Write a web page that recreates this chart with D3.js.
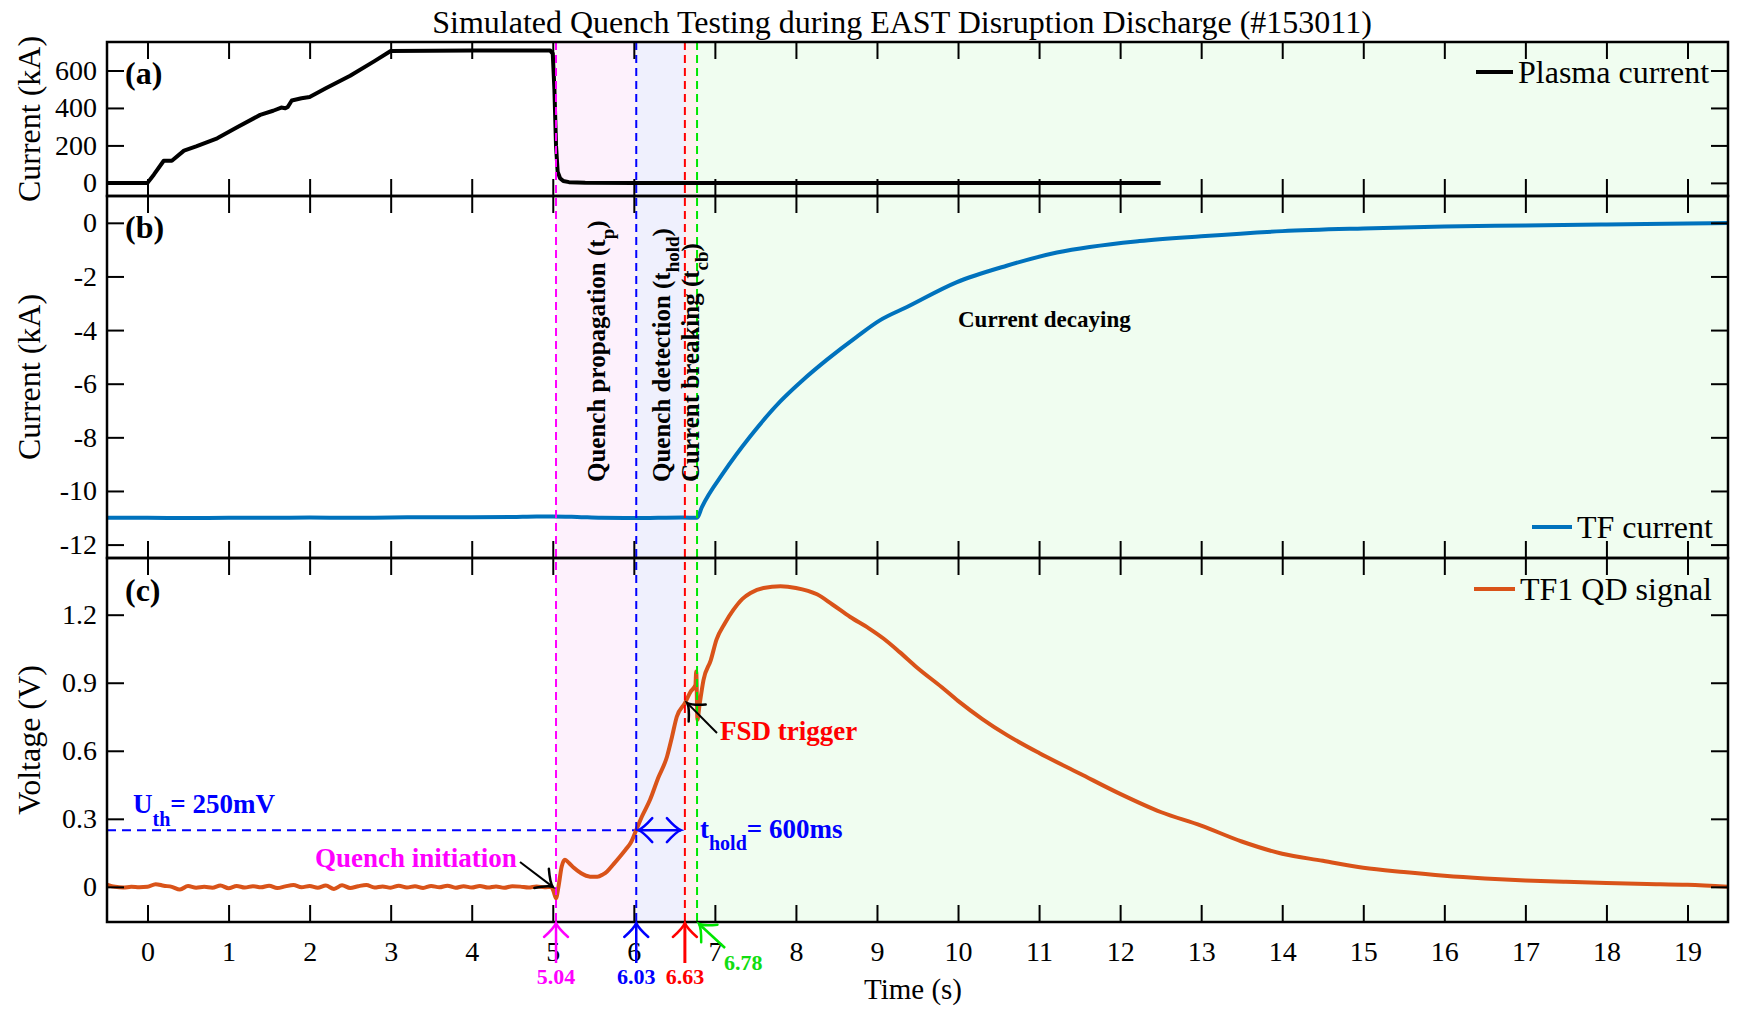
<!DOCTYPE html>
<html>
<head>
<meta charset="utf-8">
<script src="https://cdn.jsdelivr.net/npm/d3@7"></script>
<style>
body { margin: 0; background: #fff; }
svg text { font-family: "Liberation Serif", "Times New Roman", serif; fill: #000; }
.bold { font-weight: bold; }
</style>
</head>
<body>
<div id="chart"></div>
<script>
// Plasma current (kA)
const plasmaT = [-0.5, 0.0, 0.08, 0.2, 0.3, 0.45, 0.6, 0.86, 1.1, 1.39, 1.55, 1.65, 1.7, 1.73, 1.78, 1.9, 2.0, 2.2, 2.5, 2.8, 3.0, 3.5, 4.0, 4.5, 4.97, 5.0, 5.02, 5.04, 5.06, 5.09, 5.13, 5.2, 5.4, 6.0, 8.0, 10.0, 12.5];
const plasmaI = [0, 0, 45, 118, 118, 172, 195, 238, 295, 363, 385, 402, 398, 405, 440, 452, 458, 505, 572, 650, 704, 705, 706, 706, 706, 690, 500, 200, 60, 25, 10, 4, 1, 0, 0, 0, 0];

// TF current (kA)
const tfT = [-0.5, 0, 0.5, 1, 1.5, 2, 2.5, 3, 3.5, 4, 4.5, 4.8, 5.0, 5.3, 5.6, 6.0, 6.3, 6.6, 6.78, 6.84, 7.11, 7.44, 7.81, 8.09, 8.38, 8.75, 9.04, 9.37, 9.98, 10.6, 11.22, 12.24, 13, 14, 15, 16, 17, 18, 19, 19.5];
const tfI = [-11.0, -11.0, -11.01, -11.0, -11.0, -10.99, -11.0, -10.99, -10.98, -10.98, -10.97, -10.95, -10.95, -10.97, -11.0, -11.01, -11.0, -10.99, -11.0, -10.6, -9.3, -7.95, -6.65, -5.85, -5.11, -4.25, -3.63, -3.14, -2.22, -1.6, -1.11, -0.68, -0.5, -0.31, -0.21, -0.14, -0.1, -0.06, -0.03, -0.01];

// TF1 QD signal (V)
const qdT = [-0.5, -0.4, -0.3, -0.2, -0.1, 0.0, 0.1, 0.2, 0.3, 0.4, 0.5, 0.6, 0.7, 0.8, 0.9, 1.0, 1.1, 1.2, 1.3, 1.4, 1.5, 1.6, 1.7, 1.8, 1.9, 2.0, 2.1, 2.2, 2.3, 2.4, 2.5, 2.6, 2.7, 2.8, 2.9, 3.0, 3.1, 3.2, 3.3, 3.4, 3.5, 3.6, 3.7, 3.8, 3.9, 4.0, 4.1, 4.2, 4.3, 4.4, 4.5, 4.6, 4.7, 4.8, 4.9, 4.98,
  5.01, 5.04, 5.07, 5.11, 5.15, 5.2, 5.26, 5.35, 5.46, 5.55, 5.62, 5.67, 5.75, 5.83, 5.9, 5.96, 6.03, 6.1, 6.2, 6.3, 6.41, 6.47, 6.53, 6.63, 6.7, 6.76, 6.77, 6.785, 6.81, 6.86, 6.95, 7.02, 7.12, 7.23, 7.34, 7.44, 7.6, 7.81, 8.0, 8.26, 8.45, 8.67, 8.9, 9.08, 9.28, 9.5, 9.8, 10.0, 10.3, 10.6, 11.0, 11.5, 12.0, 12.5, 13.0, 13.5, 14.0, 14.5, 15.0, 15.5, 16.0, 16.5, 17.0, 17.5, 18.0, 18.5, 19.0, 19.5];
const qdV = [0.01, 0.0, -0.003, 0.0, -0.002, 0.0, 0.012, 0.005, 0.0, -0.012, 0.004, -0.004, 0.0, -0.004, 0.006, -0.006, 0.004, -0.003, 0.003, -0.002, 0.005, -0.005, 0.002, 0.008, -0.002, 0.004, -0.004, 0.006, -0.009, 0.007, -0.005, 0.003, 0.008, -0.003, 0.002, -0.004, 0.005, -0.003, 0.003, -0.005, 0.004, -0.002, 0.005, -0.004, 0.003, -0.003, 0.004, -0.003, 0.002, -0.004, 0.003, 0.001, -0.003, 0.002, -0.002, 0.0,
  -0.02, -0.05, 0.0, 0.09, 0.12, 0.105, 0.084, 0.06, 0.045, 0.044, 0.055, 0.068, 0.1, 0.134, 0.165, 0.193, 0.251, 0.31, 0.384, 0.48, 0.575, 0.66, 0.75, 0.81, 0.86, 0.89, 0.95, 0.737, 0.8, 0.913, 1.0, 1.09, 1.16, 1.222, 1.27, 1.296, 1.318, 1.325, 1.318, 1.29, 1.245, 1.19, 1.14, 1.095, 1.035, 0.965, 0.88, 0.82, 0.74, 0.67, 0.59, 0.5, 0.41, 0.33, 0.27, 0.2, 0.146, 0.115, 0.084, 0.065, 0.049, 0.037, 0.028, 0.022, 0.017, 0.013, 0.009, 0.0];

// phase boundaries (s)
const phaseStart = [5.04, 6.03, 6.63, 6.78];
const phaseEnd = [6.03, 6.63, 6.78, 19.5];
const markerLabels = ["5.04", "6.03", "6.63", "6.78"];
const thresholdV = 0.25;

const xTicks = d3.range(0, 20);
const yTicksA = [0, 200, 400, 600];
const yTicksB = [0, -2, -4, -6, -8, -10, -12];
const yTicksC = [0, 0.3, 0.6, 0.9, 1.2];

const phaseFill = ["#fdf1fc", "#eff0fd", "#fdf1ef", "#f0fdf0"];
const markerColor = ["#ff00ff", "#0000ff", "#ff0000", "#00e600"];

const width = 1750, height = 1017;
const left = 107, right = 1728;
const panels = [
  { top: 42, bottom: 196 },
  { top: 196, bottom: 558 },
  { top: 558, bottom: 922 }
];

const svg = d3.select("#chart").append("svg")
  .attr("width", width)
  .attr("height", height);

const x = d3.scaleLinear().domain([-0.5, 19.5]).range([left, right]);
const yA = d3.scaleLinear().domain([-70, 752]).range([panels[0].bottom, panels[0].top]);
const yB = d3.scaleLinear().domain([-12.5, 1.0]).range([panels[1].bottom, panels[1].top]);
const yC = d3.scaleLinear().domain([-0.155, 1.45]).range([panels[2].bottom, panels[2].top]);

// clip paths
const defs = svg.append("defs");
panels.forEach((p, i) => {
  defs.append("clipPath").attr("id", "clip" + i)
    .append("rect")
    .attr("x", left).attr("y", p.top)
    .attr("width", right - left).attr("height", p.bottom - p.top);
});

// phase shading across all panels
svg.selectAll(".phase")
  .data(phaseStart)
  .enter()
  .append("rect")
  .attr("class", "phase")
  .attr("x", d => x(d))
  .attr("y", panels[0].top)
  .attr("width", (d, i) => x(phaseEnd[i]) - x(d))
  .attr("height", panels[2].bottom - panels[0].top)
  .attr("fill", (d, i) => phaseFill[i]);

// threshold line
svg.append("line")
  .attr("x1", left).attr("x2", x(phaseStart[1]))
  .attr("y1", yC(thresholdV)).attr("y2", yC(thresholdV))
  .attr("stroke", "#0000ff").attr("stroke-width", 2)
  .attr("stroke-dasharray", "9,6");

// data lines
function drawLine(ts, vs, y, panel, color, w, curve) {
  const line = d3.line().x(d => x(d[0])).y(d => y(d[1])).curve(curve);
  svg.append("path")
    .datum(ts.map((t, i) => [t, vs[i]]))
    .attr("clip-path", "url(#clip" + panel + ")")
    .attr("d", line)
    .attr("fill", "none")
    .attr("stroke", color)
    .attr("stroke-width", w)
    .attr("stroke-linejoin", "round");
}
drawLine(plasmaT, plasmaI, yA, 0, "#000", 4, d3.curveLinear);
drawLine(tfT, tfI, yB, 1, "#0072bd", 4, d3.curveMonotoneX);
drawLine(qdT, qdV, yC, 2, "#d95319", 4, d3.curveMonotoneX);

// dashed phase markers
svg.selectAll(".marker")
  .data(phaseStart)
  .enter()
  .append("line")
  .attr("class", "marker")
  .attr("x1", d => x(d)).attr("x2", d => x(d))
  .attr("y1", panels[0].top).attr("y2", panels[2].bottom)
  .attr("stroke", (d, i) => markerColor[i])
  .attr("stroke-width", 2)
  .attr("stroke-dasharray", "8,5");

// axes and frames
const yScales = [[yA, yTicksA, d => d], [yB, yTicksB, d => d], [yC, yTicksC, d => d === 0 ? "0" : d3.format(".1f")(d)]];
panels.forEach((p, i) => {
  const [y, ticks, fmt] = yScales[i];
  svg.append("g").attr("class", "axis")
    .attr("transform", "translate(" + left + ",0)")
    .call(d3.axisLeft(y).tickValues(ticks).tickFormat(fmt).tickSizeInner(-17).tickSizeOuter(0).tickPadding(10));
  svg.append("g").attr("class", "axis")
    .attr("transform", "translate(" + right + ",0)")
    .call(d3.axisRight(y).tickValues(ticks).tickFormat("").tickSizeInner(-17).tickSizeOuter(0));
  svg.append("g").attr("class", "axis")
    .attr("transform", "translate(0," + p.top + ")")
    .call(d3.axisTop(x).tickValues(xTicks).tickFormat("").tickSizeInner(-17).tickSizeOuter(0));
  svg.append("g").attr("class", "axis")
    .attr("transform", "translate(0," + p.bottom + ")")
    .call(d3.axisBottom(x).tickValues(xTicks).tickFormat(i === 2 ? d3.format("d") : "").tickSizeInner(-17).tickSizeOuter(0).tickPadding(19));
  svg.append("rect")
    .attr("x", left).attr("y", p.top)
    .attr("width", right - left).attr("height", p.bottom - p.top)
    .attr("fill", "none").attr("stroke", "#000").attr("stroke-width", 2.5);
});
svg.selectAll(".axis .domain").remove();
svg.selectAll(".axis line").attr("stroke", "#000").attr("stroke-width", 2);
svg.selectAll(".axis text")
  .attr("font-size", 28)
  .attr("font-family", "Liberation Serif, Times New Roman, serif")
  .attr("fill", "#000");

// titles
svg.append("text")
  .attr("x", 902).attr("y", 33)
  .attr("text-anchor", "middle")
  .attr("font-size", 32)
  .text("Simulated Quench Testing during EAST Disruption Discharge (#153011)");

svg.append("text")
  .attr("x", 913).attr("y", 999)
  .attr("text-anchor", "middle")
  .attr("font-size", 29)
  .text("Time (s)");

const yTitles = ["Current (kA)", "Current (kA)", "Voltage (V)"];
panels.forEach((p, i) => {
  svg.append("text")
    .attr("transform", "translate(40," + ((p.top + p.bottom) / 2) + ") rotate(-90)")
    .attr("text-anchor", "middle")
    .attr("font-size", 32)
    .text(yTitles[i]);
});

// panel letters
const panelLetters = ["(a)", "(b)", "(c)"];
const letterY = [84, 238, 601];
panelLetters.forEach((l, i) => {
  svg.append("text")
    .attr("class", "bold")
    .attr("x", 125).attr("y", letterY[i])
    .attr("font-size", 32)
    .text(l);
});

// legends
const legends = [
  { label: "Plasma current", color: "#000", x1: 1476, x2: 1513, y: 72 },
  { label: "TF current", color: "#0072bd", x1: 1532, x2: 1572, y: 527 },
  { label: "TF1 QD signal", color: "#d95319", x1: 1474, x2: 1515, y: 589 }
];
legends.forEach(l => {
  svg.append("line")
    .attr("x1", l.x1).attr("x2", l.x2)
    .attr("y1", l.y).attr("y2", l.y)
    .attr("stroke", l.color).attr("stroke-width", 4);
  svg.append("text")
    .attr("x", l.x2 + 5).attr("y", l.y + 11)
    .attr("font-size", 32)
    .text(l.label);
});

// arrow head helper: tip at (tx, ty), pointing along angle (radians)
function arrowHead(tx, ty, angle, color, w) {
  const L = 14, W = 12;
  const path = "M" + (-L) + "," + (-W) + " Q" + (-L * 0.35) + "," + (-W * 0.15) + " 0,0 Q" + (-L * 0.35) + "," + (W * 0.15) + " " + (-L) + "," + W;
  svg.append("path")
    .attr("d", path)
    .attr("transform", "translate(" + tx + "," + ty + ") rotate(" + (angle * 180 / Math.PI) + ")")
    .attr("fill", "none")
    .attr("stroke", color)
    .attr("stroke-width", w || 2.5)
    .attr("stroke-linecap", "round");
}
function arrow(x1, y1, x2, y2, color, w) {
  svg.append("line")
    .attr("x1", x1).attr("y1", y1).attr("x2", x2).attr("y2", y2)
    .attr("stroke", color).attr("stroke-width", w || 2);
  arrowHead(x2, y2, Math.atan2(y2 - y1, x2 - x1), color, 2.5);
}

// time markers below axis
const axisBottomY = panels[2].bottom;
phaseStart.forEach((t, i) => {
  if (i < 3) {
    arrow(x(t), axisBottomY + 41, x(t), axisBottomY + 1, markerColor[i], i === 2 ? 3 : 2.5);
    svg.append("text")
      .attr("class", "bold")
      .attr("x", x(t)).attr("y", 984)
      .attr("text-anchor", "middle")
      .attr("font-size", 22)
      .style("fill", markerColor[i])
      .text(markerLabels[i]);
  } else {
    arrow(x(t) + 28, axisBottomY + 26, x(t) + 2, axisBottomY + 2, "#00e600", 2.5);
    svg.append("text")
      .attr("class", "bold")
      .attr("x", x(t) + 27).attr("y", 970)
      .attr("font-size", 22)
      .style("fill", "#11dd11")
      .text(markerLabels[i]);
  }
});

// hold time double arrow
const yth = yC(thresholdV);
svg.append("line")
  .attr("x1", x(phaseStart[1]) + 2).attr("x2", x(phaseStart[2]) - 4)
  .attr("y1", yth).attr("y2", yth)
  .attr("stroke", "#0000ff").attr("stroke-width", 2.5);
arrowHead(x(phaseStart[1]) + 2, yth, Math.PI, "#0000ff", 2.5);
arrowHead(x(phaseStart[2]) - 4, yth, 0, "#0000ff", 2.5);

// annotation texts
const uth = svg.append("text").attr("class", "bold")
  .attr("x", 133).attr("y", 813).attr("font-size", 27).style("fill", "#0000ff");
uth.append("tspan").text("U");
uth.append("tspan").attr("dy", 13).attr("font-size", 20).text("th");
uth.append("tspan").attr("dy", -13).text("= 250mV");

const thold = svg.append("text").attr("class", "bold")
  .attr("x", 700).attr("y", 838).attr("font-size", 27).style("fill", "#0000ff");
thold.append("tspan").text("t");
thold.append("tspan").attr("dy", 12).attr("font-size", 20).text("hold");
thold.append("tspan").attr("dy", -12).text("= 600ms");

svg.append("text").attr("class", "bold")
  .attr("x", 315).attr("y", 867).attr("font-size", 27)
  .style("fill", "#ff00ff")
  .text("Quench initiation");
arrow(520, 862, x(5.0), yC(0.0), "#000", 2);

svg.append("text").attr("class", "bold")
  .attr("x", 720).attr("y", 740).attr("font-size", 27)
  .style("fill", "#ff0000")
  .text("FSD trigger");
arrow(717, 733, x(6.66), yC(0.81), "#000", 2);

svg.append("text").attr("class", "bold")
  .attr("x", 958).attr("y", 327).attr("font-size", 23)
  .text("Current decaying");

// rotated phase labels
const phaseText = [
  { main: "Quench propagation (t", sub: "p", x: 605 },
  { main: "Quench detection (t", sub: "hold", x: 670 },
  { main: "Current breaking (t", sub: "cb", x: 699 }
];
phaseText.forEach(p => {
  const t = svg.append("text").attr("class", "bold")
    .attr("transform", "translate(" + p.x + ",482) rotate(-90)")
    .attr("font-size", 25);
  t.append("tspan").text(p.main);
  t.append("tspan").attr("dy", 9).attr("font-size", 19).text(p.sub);
  t.append("tspan").attr("dy", -9).text(")");
});
</script>
</body>
</html>
